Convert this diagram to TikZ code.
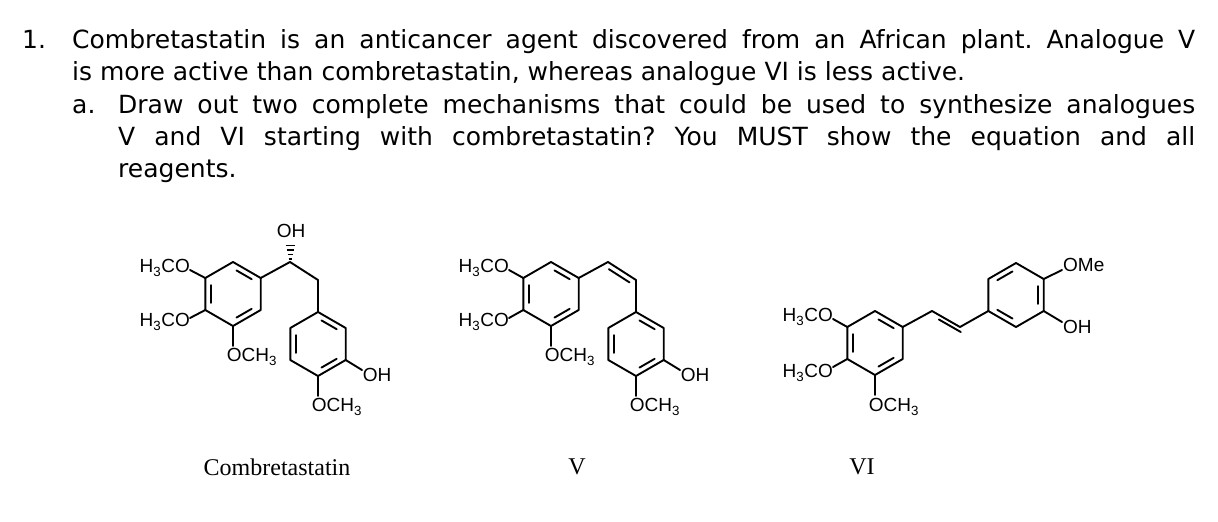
\documentclass[tikz,border=0pt]{standalone}
\usepackage{fontspec}
\setmainfont{DejaVu Sans}
\newfontfamily\labfont{Liberation Sans}
\newfontfamily\namefont{Liberation Serif}
\usetikzlibrary{calc}
\frenchspacing
\tikzset{
 bond/.style={line width=1.9pt, line cap=round, line join=round},
 lab/.style={font=\labfont\fontsize{19}{20}\selectfont, inner sep=0pt},
 nm/.style={font=\namefont\fontsize{24}{26}\selectfont, inner sep=0pt},
 ttl/.style={font=\fontsize{25}{27}\selectfont, inner sep=0pt, anchor=base west},
}
\newcommand\hexring[3]{%
 \coordinate (#1) at (#2,#3);
 \coordinate (#1-t) at (#2,#3-32);
 \coordinate (#1-ur) at (#2+27.7,#3-16);
 \coordinate (#1-lr) at (#2+27.7,#3+16);
 \coordinate (#1-b) at (#2,#3+32);
 \coordinate (#1-ll) at (#2-27.7,#3+16);
 \coordinate (#1-ul) at (#2-27.7,#3-16);
 \draw[bond] (#1-t)--(#1-ur)--(#1-lr)--(#1-b)--(#1-ll)--(#1-ul)--cycle;}
\newcommand\inner[3]{\draw[bond,shorten <=4pt,shorten >=4pt] ($(#1)!0.8!(#1-#2)$)--($(#1)!0.8!(#1-#3)$);}
\begin{document}
\begin{tikzpicture}[x=1pt,y=-1pt]
\useasboundingbox (0,0) rectangle (1218,522);
\fill[white] (0,0) rectangle (1218,522);
% title
\node[ttl] (n1) at (22,48) {1.};
\node[ttl] (t1) at (72,48) {\makebox[1123pt][s]{Combretastatin is an anticancer agent discovered from an African plant. Analogue V}};
\node[ttl] (t2) at (72,80) {is more active than combretastatin, whereas analogue VI is less active.};
\node[ttl] (na) at (72,113) {a.};
\node[ttl] (t3) at (118,113) {\makebox[1077pt][s]{Draw out two complete mechanisms that could be used to synthesize analogues}};
\node[ttl] (t4) at (118,145) {\makebox[1077pt][s]{V and VI starting with combretastatin? You MUST show the equation and all}};
\node[ttl] (t5) at (118,177) {reagents.};
% ===== Combretastatin
\hexring{A}{233}{294}
\hexring{B}{318}{344}
\inner{A}{t}{ur}\inner{A}{lr}{b}\inner{A}{ll}{ul}
\inner{B}{t}{ur}\inner{B}{lr}{b}\inner{B}{ll}{ul}
\coordinate (c1) at (290,262);
\coordinate (c2) at (318,280);
\draw[bond] (A-ur)--(c1)--(c2)--(B-t);
\foreach \i/\w in {0/1.5,1/2.5,2/3.5,3/4.5}{\draw[line width=1.4pt] (290-\w,259-4.5*\i)--(290+\w,259-4.5*\i);}
\node[lab] (cOH) at (291,231) {OH};
\coordinate (a1) at (190,270); \draw[bond] (A-ul)--(a1);
\node[lab,anchor=east] (cL1) at (190,268) {H\textsubscript{3}CO};
\coordinate (a2) at (190,318); \draw[bond] (A-ll)--(a2);
\node[lab,anchor=east] (cL2) at (190,322) {H\textsubscript{3}CO};
\coordinate (a3) at (233,346); \draw[bond] (A-b)--(a3);
\node[lab] (cL3) at (252,357) {OCH\textsubscript{3}};
\coordinate (b1) at (362,370); \draw[bond] (B-lr)--(b1);
\node[lab] (cL4) at (377,375) {OH};
\coordinate (b2) at (318,396); \draw[bond] (B-b)--(b2);
\node[lab] (cL5) at (337,407) {OCH\textsubscript{3}};
\node[nm] (nC) at (277,467) {Combretastatin};
% ===== V
\hexring{VA}{551}{294}
\hexring{VB}{636}{344}
\inner{VA}{t}{ur}\inner{VA}{lr}{b}\inner{VA}{ll}{ul}
\inner{VB}{t}{ur}\inner{VB}{lr}{b}\inner{VB}{ll}{ul}
\coordinate (v1) at (608,262);
\coordinate (v2) at (636,280);
\draw[bond] (VA-ur)--(v1)--(v2)--(VB-t);
\draw[bond,shorten <=4pt,shorten >=3pt] ($(v1)+(-2.5,5)$)--($(v2)+(-4,4)$);
\coordinate (va1) at (509,270); \draw[bond] (VA-ul)--(va1);
\node[lab,anchor=east] (vL1) at (509,268) {H\textsubscript{3}CO};
\coordinate (va2) at (509,318); \draw[bond] (VA-ll)--(va2);
\node[lab,anchor=east] (vL2) at (509,322) {H\textsubscript{3}CO};
\coordinate (va3) at (551,346); \draw[bond] (VA-b)--(va3);
\node[lab] (vL3) at (570,357) {OCH\textsubscript{3}};
\coordinate (vb1) at (680,370); \draw[bond] (VB-lr)--(vb1);
\node[lab] (vL4) at (695,375) {OH};
\coordinate (vb2) at (636,396); \draw[bond] (VB-b)--(vb2);
\node[lab] (vL5) at (655,407) {OCH\textsubscript{3}};
\node[nm] (nV) at (577,467) {V};
% ===== VI
\hexring{WA}{875}{343}
\hexring{WB}{1016}{295}
\inner{WA}{t}{ur}\inner{WA}{lr}{b}\inner{WA}{ll}{ul}
\inner{WB}{t}{ul}\inner{WB}{ur}{lr}\inner{WB}{b}{ll}
\coordinate (w1) at (932,311);
\coordinate (w2) at (960,327);
\draw[bond] (WA-ur)--(w1)--(w2)--(WB-ll);
\draw[bond,shorten <=5pt,shorten >=2pt] ($(w1)+(2.5,6)$)--($(w2)+(2.5,6)$);
\coordinate (wa1) at (833,319); \draw[bond] (WA-ul)--(wa1);
\node[lab,anchor=east] (wL1) at (833,317) {H\textsubscript{3}CO};
\coordinate (wa2) at (833,367); \draw[bond] (WA-ll)--(wa2);
\node[lab,anchor=east] (wL2) at (833,373) {H\textsubscript{3}CO};
\coordinate (wa3) at (875,395); \draw[bond] (WA-b)--(wa3);
\node[lab] (wL3) at (894,407) {OCH\textsubscript{3}};
\coordinate (wb1) at (1062,270); \draw[bond] (WB-ur)--(wb1);
\node[lab,anchor=west] (wL4) at (1063,265) {OMe};
\coordinate (wb2) at (1062,322); \draw[bond] (WB-lr)--(wb2);
\node[lab,anchor=west] (wL5) at (1063,327) {OH};
\node[nm] (nVI) at (862,467) {VI};
\end{tikzpicture}
\end{document}
